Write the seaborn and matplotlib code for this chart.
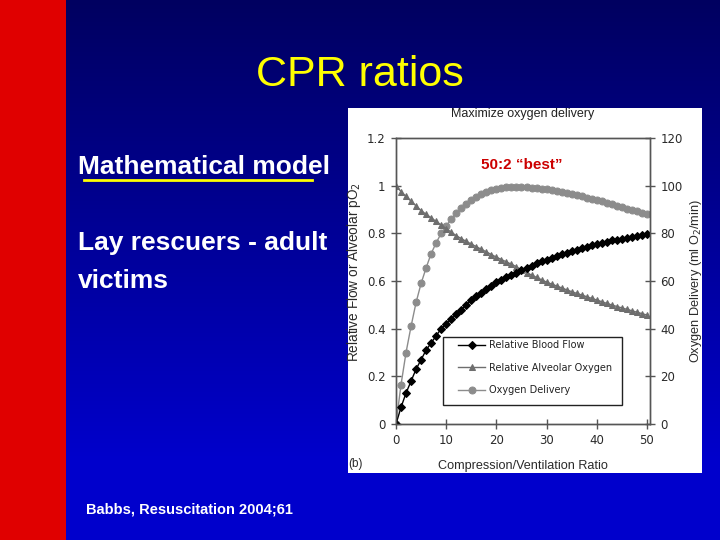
import numpy as np
import pandas as pd
import matplotlib
matplotlib.use("Agg")
import matplotlib.pyplot as plt
from matplotlib.patches import Rectangle
from matplotlib.lines import Line2D
import seaborn as sns

# ---------------- data ----------------
ratio = list(range(0, 51))
blood_flow = [0.00, 0.07, 0.13, 0.18, 0.23, 0.27, 0.31, 0.34, 0.37, 0.40,
              0.42, 0.44, 0.46, 0.48, 0.50, 0.52, 0.535, 0.55, 0.565, 0.58,
              0.595, 0.605, 0.615, 0.625, 0.635, 0.645, 0.655, 0.665, 0.675, 0.683,
              0.69, 0.698, 0.705, 0.712, 0.719, 0.725, 0.731, 0.737, 0.743, 0.749,
              0.755, 0.760, 0.765, 0.770, 0.774, 0.778, 0.782, 0.786, 0.790, 0.794,
              0.798]
alveolar_o2 = [1.00, 0.975, 0.955, 0.935, 0.915, 0.895, 0.88, 0.865, 0.85, 0.835,
               0.82, 0.805, 0.79, 0.778, 0.766, 0.755, 0.744, 0.733, 0.722, 0.711,
               0.70, 0.69, 0.68, 0.67, 0.66, 0.645, 0.635, 0.625, 0.615, 0.605,
               0.595, 0.587, 0.579, 0.571, 0.563, 0.555, 0.548, 0.541, 0.534, 0.527,
               0.52, 0.513, 0.506, 0.499, 0.493, 0.487, 0.481, 0.475, 0.469, 0.463,
               0.457]
o2_delivery = [0, 16.5, 30, 41, 51, 59, 65.5, 71.5, 76, 80,
               83, 86, 88.5, 90.5, 92.5, 94, 95.3, 96.4, 97.3, 98,
               98.6, 99, 99.3, 99.5, 99.6, 99.5, 99.4, 99.2, 99.0, 98.7,
               98.4, 98.0, 97.6, 97.2, 96.8, 96.4, 96.0, 95.5, 95.0, 94.5,
               94.0, 93.4, 92.8, 92.2, 91.6, 91.0, 90.4, 89.8, 89.2, 88.6,
               88.0]
series_labels = ["Relative Blood Flow", "Relative Alveolar Oxygen", "Oxygen Delivery"]
left_ticks = [0, 0.2, 0.4, 0.6, 0.8, 1.0, 1.2]
left_ticklabels = ["0", "0.2", "0.4", "0.6", "0.8", "1", "1.2"]
right_ticks = [0, 20, 40, 60, 80, 100, 120]
x_ticks = [0, 10, 20, 30, 40, 50]

df = pd.DataFrame({"ratio": ratio, "flow": blood_flow,
                   "alv": alveolar_o2, "o2": o2_delivery})

W, H = 720, 540
fig = plt.figure(figsize=(7.2, 5.4), dpi=100)

def fx(px):
    return px / W

def fy(py):
    return 1 - py / H

# ---------------- slide background ----------------
bg = fig.add_axes([0, 0, 1, 1], zorder=-10)
rows = np.arange(H)
b = np.clip(0x60 + (0xCC - 0x60) * rows / 460.0, 0, 0xCC) / 255.0
grad = np.zeros((H, 1, 3))
grad[:, 0, 2] = b
bg.imshow(grad, aspect="auto", extent=[0, 1, 0, 1], origin="upper")
bg.add_patch(Rectangle((0, 0), fx(66), 1, color="#E00000", lw=0))
panel = Rectangle((fx(348), fy(473)), fx(702 - 348), (473 - 108) / H,
                  facecolor="white", edgecolor="none", lw=0)
bg.add_patch(panel)
bg.set_xlim(0, 1)
bg.set_ylim(0, 1)
bg.axis("off")

arial = ["Liberation Sans", "DejaVu Sans"]

fig.text(0.5, fy(86), "CPR ratios", color="#FFFF00", fontsize=31,
         family=arial, ha="center", va="baseline")
fig.text(fx(78), fy(174), "Mathematical model", color="white", fontsize=19,
         family=arial, weight="bold", ha="left", va="baseline")
fig.add_artist(Line2D([fx(84), fx(312)], [fy(180), fy(180)], color="#FFFF00", lw=2))
fig.text(fx(78), fy(250), "Lay rescuers - adult", color="white", fontsize=19,
         family=arial, weight="bold", ha="left", va="baseline")
fig.text(fx(78), fy(288), "victims", color="white", fontsize=19,
         family=arial, weight="bold", ha="left", va="baseline")
fig.text(fx(86), fy(513), "Babbs, Resuscitation 2004;61", color="white", fontsize=10.5,
         family=arial, weight="bold", ha="left", va="baseline")

# ---------------- chart ----------------
ax = fig.add_axes([fx(396), fy(424), fx(650 - 396), (424 - 138) / H])
ax.set_facecolor("none")
ax2 = ax.twinx()

sns.lineplot(data=df, x="ratio", y="o2", ax=ax2, color="#8c8c8c", marker="o",
             markersize=5, markeredgecolor="#8c8c8c", linewidth=1,
             label=series_labels[2])
sns.lineplot(data=df, x="ratio", y="alv", ax=ax, color="#6e6e6e", marker="^",
             markersize=5, markeredgecolor="#6e6e6e", linewidth=1,
             label=series_labels[1])
sns.lineplot(data=df, x="ratio", y="flow", ax=ax, color="black", marker="D",
             markersize=3.6, markeredgecolor="black", linewidth=1,
             label=series_labels[0])
ax.set_zorder(ax2.get_zorder() + 1)
ax.patch.set_visible(False)

for a in (ax, ax2):
    lg = a.get_legend()
    if lg is not None:
        lg.remove()

ax.set_xlim(0, 50.6)
ax.set_ylim(0, 1.2)
ax2.set_ylim(0, 120)
ax.set_xticks(x_ticks)
ax.set_yticks(left_ticks)
ax.set_yticklabels(left_ticklabels)
ax2.set_yticks(right_ticks)

tick_col = "#2a2a2a"
spine_col = "#555555"
for a in (ax, ax2):
    for s in a.spines.values():
        s.set_color(spine_col)
        s.set_linewidth(1.0)
    a.tick_params(axis="both", direction="inout", length=7, width=1,
                  color=spine_col, labelcolor=tick_col, labelsize=8.5, pad=4)
ax.tick_params(axis="y", right=False)
ax2.tick_params(axis="y", left=False)

ax.set_xlabel("")
ax.set_ylabel("")
ax2.set_ylabel("")
fig.text(fx(523), fy(466), "Compression/Ventilation Ratio", fontsize=9.1,
         color=tick_col, ha="center", va="center", family=arial)
fig.text(fx(354), fy(272), "Relative Flow or Alveolar pO$_2$", fontsize=9.8,
         color=tick_col, ha="center", va="center", rotation=90, family=arial)
fig.text(fx(696), fy(281), "Oxygen Delivery (ml O$_2$/min)", fontsize=9.2,
         color=tick_col, ha="center", va="center", rotation=90, family=arial)
fig.text(fx(348), fy(464), "(b)", fontsize=8.5, color=tick_col,
         ha="left", va="center", family=arial)
t = fig.text(fx(523), fy(114), "Maximize oxygen delivery", fontsize=9,
             color="#222222", ha="center", va="center", family=arial)
t.set_clip_path(panel)
fig.text(fx(522), fy(165), "50:2 \u201cbest\u201d", fontsize=11, color="#CC0000",
         weight="bold", ha="center", va="center", family=arial)

# legend frame drawn at its place, legend entries inside it
box = Rectangle((fx(443), fy(405)), fx(622 - 443), (405 - 337) / H,
                transform=fig.transFigure, facecolor="white",
                edgecolor="#222222", lw=1.0, zorder=5)
ax.add_patch(box)
box.set_transform(fig.transFigure)

h1, l1 = ax.get_legend_handles_labels()
h2, l2 = ax2.get_legend_handles_labels()
hmap = dict(zip(l1 + l2, h1 + h2))
leg = ax.legend([hmap[l] for l in series_labels], series_labels,
                loc="upper left",
                bbox_to_anchor=((458 - 396) / 254, (424 - 340) / 286),
                borderaxespad=0, borderpad=0, fontsize=7, frameon=False,
                handlelength=2.8, labelspacing=1.3, handletextpad=0.4)
leg.set_zorder(6)
for txt in leg.get_texts():
    txt.set_color("#222222")

fig.savefig("out.png", dpi=100)
